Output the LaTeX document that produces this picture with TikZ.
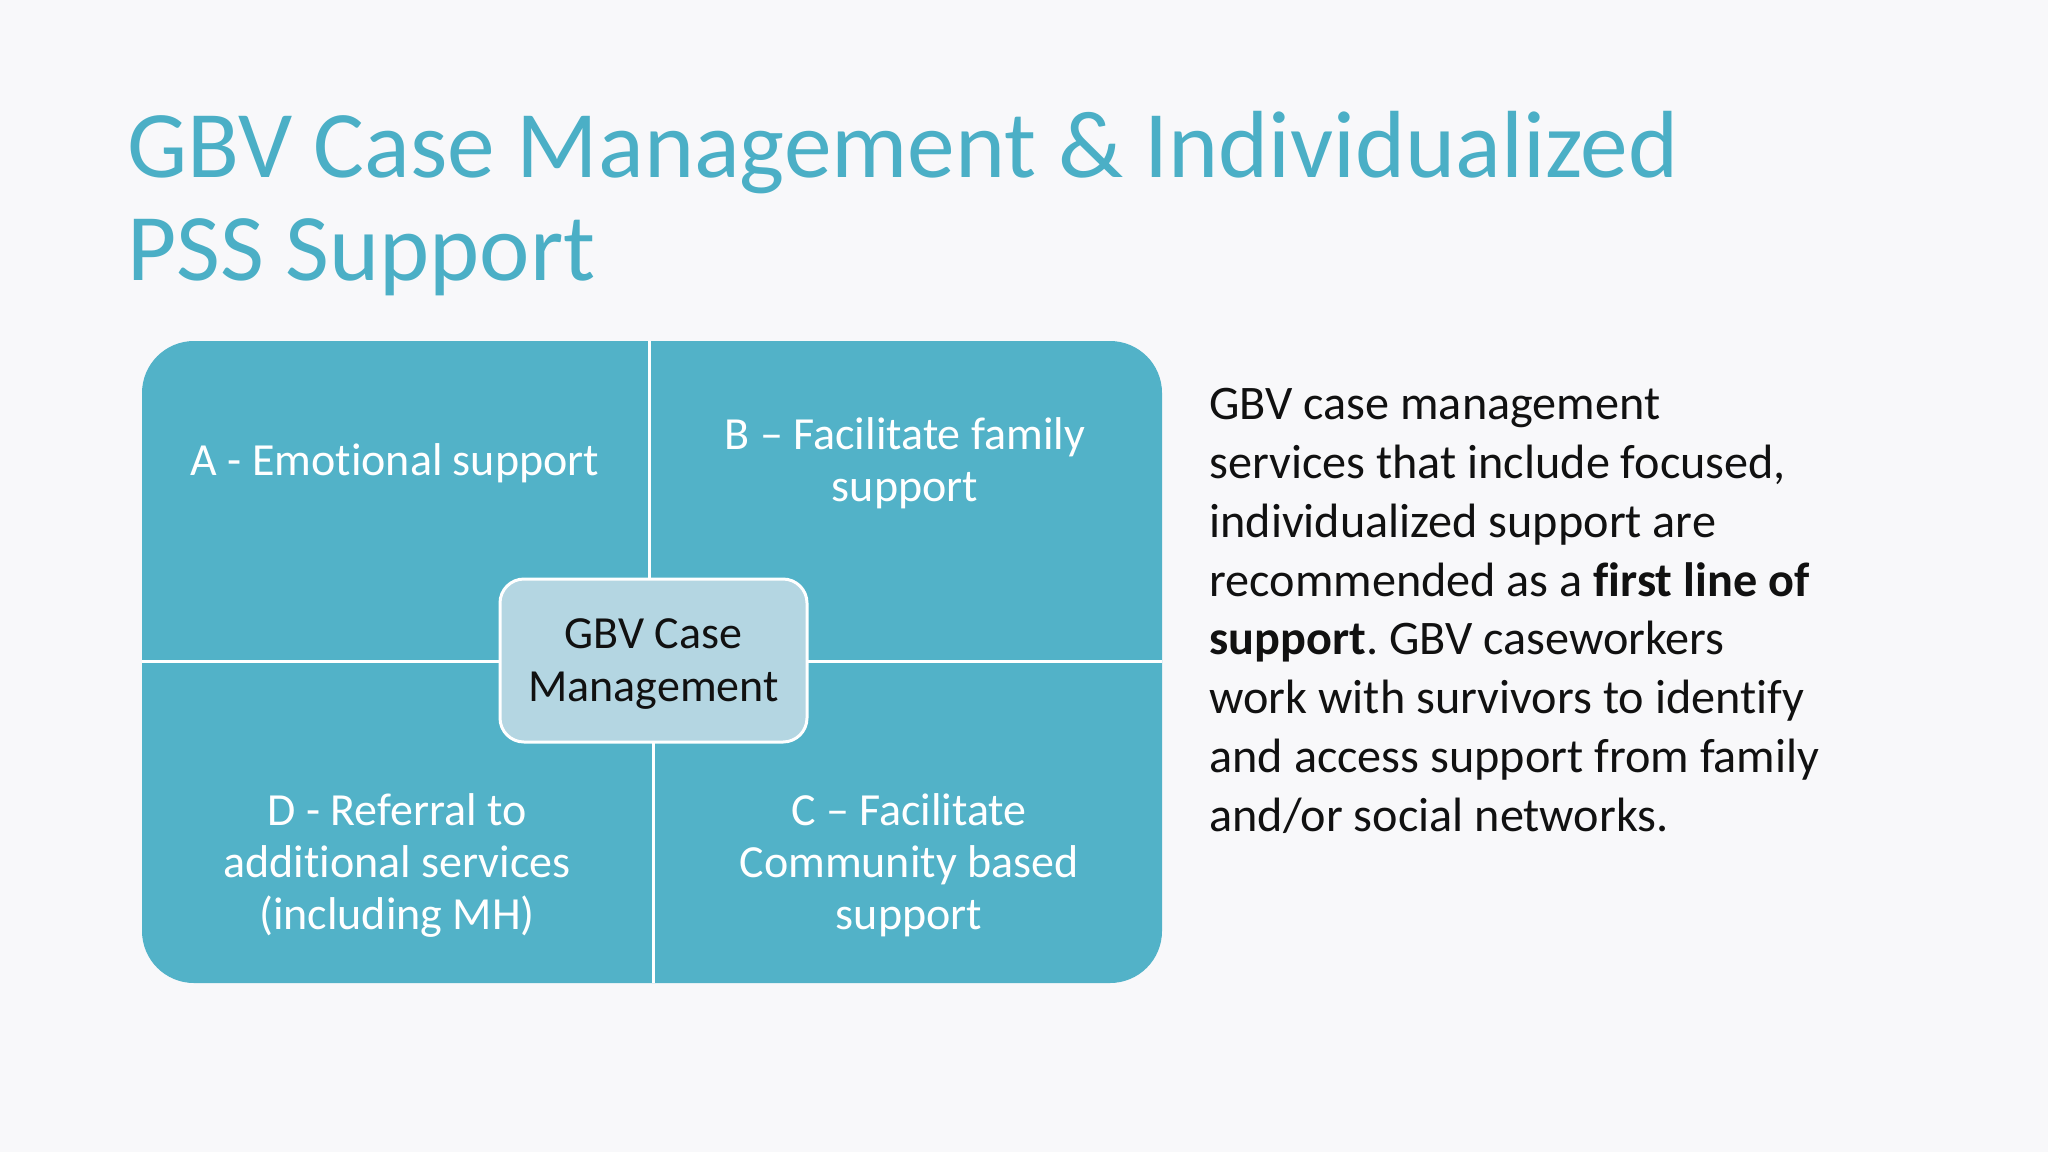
\documentclass[tikz,border=0pt]{standalone}
\usepackage{fontspec}
\setmainfont{Carlito}[Ligatures={TeX,NoCommon}]
\usetikzlibrary{positioning}
\definecolor{slidebg}{HTML}{F8F8FA}
\definecolor{titleteal}{HTML}{4BAFC6}
\definecolor{quadteal}{HTML}{52B2C8}
\definecolor{casefill}{HTML}{B4D6E2}
\definecolor{inkblack}{HTML}{111111}
\frenchspacing

\begin{document}
\begin{tikzpicture}[x=0.5pt,y=-0.5pt,
    quadtext/.style={text=white,align=center,font=\fontsize{23}{26}\selectfont},
    casebox/.style={draw=white,line width=1.5pt,fill=casefill,rounded corners=12pt,
      minimum width=153.5pt,minimum height=81.5pt},
    casetext/.style={align=center,text=inkblack,font=\fontsize{23}{26.5}\selectfont},
    divider/.style={draw=white,line width=1.5pt}]
      \useasboundingbox[fill=slidebg] (0,0) rectangle (2048,1152);

      \node[anchor=north west,inner sep=0,align=left,text=titleteal,
        font=\fontsize{47.7}{51.5}\selectfont] (title) at (127,111)
        {GBV Case Management \& Individualized\\PSS Support};

      \fill[quadteal,rounded corners=26pt] (142,341) rectangle (1162,983);  % four quadrants
      \draw[divider] (649,341) -- (649,661);  % A | B
      \draw[divider] (653,661) -- (653,983);  % D | C
      \draw[divider] (142,661) -- (1162,661);  % top | bottom

      \node[quadtext] (qa) at (395,463) {A - Emotional support};
      \node[quadtext] (qb) at (905,463) {B – Facilitate family\\support};
      \node[quadtext] (qd) at (397,865) {D - Referral to\\additional services\\(including MH)};
      \node[quadtext] (qc) at (909,865) {C – Facilitate\\Community based\\support};

      \node[casebox] (cm) at (653.5,660.5) {};
      \node[casetext] (cmtext) at ([yshift=-2pt]cm.center) {GBV Case\\Management};

      \node[anchor=north west,inner sep=0,align=left,text=inkblack,
        font=\fontsize{24.1}{29.4}\selectfont] (note) at (1209,388)
        {GBV case management\\services that include focused,\\individualized support are\\
         recommended as a \textbf{first line of}\\\textbf{support}. GBV caseworkers\\
         work with survivors to identify\\and access support from family\\and/or social networks.};
    \end{tikzpicture}
\end{document}
